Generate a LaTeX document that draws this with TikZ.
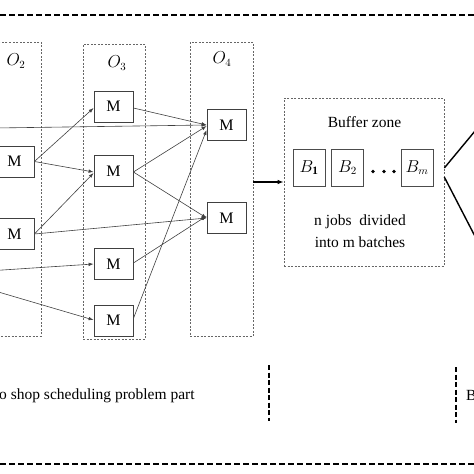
\documentclass[tikz,border=0pt]{standalone}
\usepackage{fontspec}
\setmainfont{Liberation Serif}
\usetikzlibrary{arrows.meta,calc}
\begin{document}
\begin{tikzpicture}[x=1pt,y=-1pt,
  txt/.style={font=\fontsize{15.5}{18}\selectfont, inner sep=0},
  mbox/.style={draw=black!75, line width=0.8pt, minimum width=39pt, minimum height=31pt, inner sep=0, font=\fontsize{16}{18}\selectfont},
  bbox/.style={draw=black!70, line width=0.8pt, minimum width=32pt, minimum height=37pt, inner sep=0, font=\fontsize{16}{18}\selectfont},
  colbox/.style={draw=black!60, line width=0.6pt, dash pattern=on 2pt off 1.5pt, inner sep=0},
  conn/.style={draw=black!75, line width=0.6pt, -{Latex[length=5pt,width=3.5pt]}},
  thickdash/.style={line width=2pt, dash pattern=on 6pt off 3pt},
  vdash/.style={line width=2.5pt, dash pattern=on 5pt off 2.5pt},
  olabel/.style={font=\fontsize{16}{18}\selectfont, inner sep=0}]
\useasboundingbox (0,0) rectangle (474,474);
\clip (0,0) rectangle (474,474);

% top and bottom dashed lines
\coordinate (tl) at (0,15); \coordinate (tr) at (474,15);
\coordinate (bl) at (0,464); \coordinate (br) at (474,464);
\draw[thickdash] (tl) -- (tr);
\draw[thickdash] (bl) -- (br);

% column boxes
\node[colbox, minimum width=61pt, minimum height=294pt] (col2) at (10.5,189) {};
\node[colbox, minimum width=62pt, minimum height=295pt] (col3) at (114,191.5) {};
\node[colbox, minimum width=63pt, minimum height=294pt] (col4) at (221.5,189) {};

\node[olabel] (lo2) at (16,61) {$O_2$};
\node[olabel] (lo3) at (117,63) {$O_3$};
\node[olabel] (lo4) at (222,59) {$O_4$};

% machines
\node[mbox] (o2a) at (14.5,161.5) {M};
\node[mbox] (o2b) at (14.5,234) {M};
\node[mbox] (o3a) at (113.5,106.5) {M};
\node[mbox] (o3b) at (113.5,171) {M};
\node[mbox] (o3c) at (113.5,264) {M};
\node[mbox] (o3d) at (113.5,320.5) {M};
\node[mbox] (o4a) at (226.5,125) {M};
\node[mbox] (o4b) at (226.5,218) {M};

% off-picture sources
\coordinate (s1) at (-5,128);
\coordinate (s2) at (-5,270.5);
\coordinate (s3) at (-5,291);

% connectors
\draw[conn] (s1) -- (o4a.west);
\draw[conn] (o2a.east) -- ($(o3a.west)+(0,1.5)$);
\draw[conn] (o2a.east) -- ($(o3b.west)+(0,1)$);
\draw[conn] (o2b.east) -- ($(o3b.west)+(0,2)$);
\draw[conn] (o2b.east) -- (o4b.west);
\draw[conn] (s2) -- (o3c.west);
\draw[conn] (s3) -- ($(o3d.west)+(0,-0.5)$);
\draw[conn] ($(o3a.east)+(0,1.5)$) -- (o4a.west);
\draw[conn] ($(o3b.east)+(0,1)$) -- ($(o4a.west)+(0,1)$);
\draw[conn] ($(o3b.east)+(0,1)$) -- (o4b.west);
\draw[conn] ($(o3c.east)+(0,-1)$) -- ($(o4b.west)+(0,-2)$);
\draw[conn] ($(o3d.east)+(0,-2)$) -- ($(o4a.west)+(0,5)$);

% buffer zone
\node[colbox, minimum width=160pt, minimum height=168pt] (buf) at (364,182) {};
\draw[line width=1.2pt, -{Latex[length=6pt,width=4.5pt]}] (col4.east |- buf.west) -- (buf.west);
\node[txt] (bz) at (364.5,122) {Buffer zone};
\node[bbox] (b1) at (309,167.5) {$B_{\mathbf{1}}$};
\node[bbox] (b2) at (347.5,167.5) {$B_2$};
\node[bbox] (bm) at (417,167.5) {$B_m$};
\fill (373,171.5) circle (1.8);
\fill (384,171.5) circle (1.8);
\fill (394,171.5) circle (1.8);
\node[txt] (nj) at (360,222) {n jobs\ \ divided};
\node[txt] (im) at (360,242) {into m batches};

% right thick lines
\coordinate (ru) at (480,125);
\coordinate (rd) at (480,246);
\draw[line width=1.4pt] ($(buf.east)+(0,-14)$) -- (ru);
\draw[line width=1.4pt] ($(buf.east)+(0,-5)$) -- (rd);

% bottom labels and separators
\node[txt, anchor=west] (fs) at (-1,396) {o shop scheduling problem part};
\coordinate (v1a) at (269,365); \coordinate (v1b) at (269,421);
\coordinate (v2a) at (456,367); \coordinate (v2b) at (456,423);
\draw[vdash] (v1a) -- (v1b);
\draw[vdash] (v2a) -- (v2b);
\node[txt, anchor=west] (bt) at (466,395) {B};
\end{tikzpicture}
\end{document}
